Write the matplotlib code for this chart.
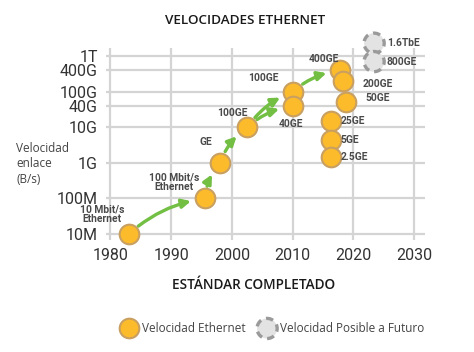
import matplotlib
matplotlib.use("Agg")
import matplotlib.pyplot as plt

plt.rcParams['font.family'] = ['Roboto', 'DejaVu Sans']

# current ethernet standards (year completed, link speed in b/s)
names = ["10 Mbit/s\nEthernet", "100 Mbit/s\nEthernet", "GE", "100GE", "100GE", "40GE",
         "400GE", "200GE", "50GE", "25GE", "5GE", "2.5GE"]
years = [1983, 1995.5, 1998, 2002.5, 2010, 2010, 2017.8, 2018.3, 2018.7, 2016.3, 2016.3, 2016.3]
speeds = [1e7, 1e8, 1e9, 1e10, 1e11, 4e10, 4e11, 2e11, 5e10, 1.5e10, 4.4e9, 1.45e9]

# possible future speeds
future_names = ["1.6TbE", "800GE"]
future_years = [2023.4, 2023.4]
future_speeds = [2.3e12, 7e11]

# evolution arrows (index from -> index to)
arrows = [(0, 1), (1, 2), (2, 3), (3, 4), (3, 5), (4, 6)]

ytick_vals = [1e7, 1e8, 1e9, 1e10, 4e10, 1e11, 4e11, 1e12]
ytick_labels = ["10M", "100M", "1G", "10G", "40G", "100G", "400G", "1T"]
xtick_vals = [1980, 1990, 2000, 2010, 2020, 2030]

# label offsets in points (dx, dy, ha)
label_pos = [(-19, 14, 'center'), (-22, 12, 'center'), (-10, 15, 'center'), (-11, 10, 'center'),
             (-21, 10, 'center'), (-1, -13, 'center'), (-12, 8, 'center'), (25, -2, 'center'),
             (14, 3, 'left'), (7, 0, 'left'), (7, 0, 'left'), (7, 0, 'left')]
future_label_pos = [(9, 0, 'left'), (9, 0, 'left')]

yellow = '#FBBB2B'
edge = '#C9A061'
green = '#72BF44'

fig = plt.figure(figsize=(4.74, 3.52), dpi=100)
ax = fig.add_axes([0.224, 0.318, 0.673, 0.546])

ax.set_yscale('log')
ax.set_xlim(1979.3, 2031.8)
ax.set_ylim(6.8e6, 1.7e12)
ax.set_yticks(ytick_vals)
ax.set_yticklabels(ytick_labels)
ax.minorticks_off()
ax.set_xticks(xtick_vals)
ax.tick_params(length=0, labelsize=11.5, colors='#333333')
ax.tick_params(axis='y', pad=6)
ax.tick_params(axis='x', pad=6)
ax.grid(True, color='#d4d4d4', linewidth=1.6)
for s in ax.spines.values():
    s.set_visible(False)

for a, b in arrows:
    ax.annotate("", xy=(years[b], speeds[b]), xytext=(years[a], speeds[a]),
                arrowprops=dict(arrowstyle='-|>', color=green, lw=2.4, mutation_scale=13,
                                shrinkA=9, shrinkB=10,
                                connectionstyle='arc3,rad=-0.15'), zorder=3)

pts = ax.scatter(years, speeds, s=200, color=yellow, edgecolors=edge, linewidths=1.5,
                 zorder=4, clip_on=False)
fut = ax.scatter(future_years, future_speeds, s=210, color='#e3e3e3', edgecolors='#9a9a9a',
                 linewidths=2.4, linestyles=(0, (2.2, 1.6)), zorder=4, clip_on=False)

for n, x, y, (dx, dy, ha) in zip(names, years, speeds, label_pos):
    ax.annotate(n, (x, y), xytext=(dx, dy), textcoords='offset points', ha=ha, va='center',
                fontsize=7.4, fontweight='bold', color='#4a4a4a', linespacing=0.95,
                annotation_clip=False, zorder=5)
for n, x, y, (dx, dy, ha) in zip(future_names, future_years, future_speeds, future_label_pos):
    ax.annotate(n, (x, y), xytext=(dx, dy), textcoords='offset points', ha=ha, va='center',
                fontsize=7.4, fontweight='bold', color='#4a4a4a',
                annotation_clip=False, zorder=5)

fig.text(0.517, 0.943, "VELOCIDADES ETHERNET", ha='center', va='center', fontsize=9.7,
         fontweight='semibold', color='#1a1a1a', family=['Open Sans', 'DejaVu Sans'])
fig.text(0.534, 0.19, "ESTÁNDAR COMPLETADO", ha='center', va='center', fontsize=9.8,
         fontweight='semibold', color='#1a1a1a', family=['Open Sans', 'DejaVu Sans'])
fig.text(0.034, 0.535, "Velocidad\nenlace\n(B/s)", ha='left', va='center', fontsize=8.5,
         color='#444444', linespacing=1.25, family=['Open Sans', 'DejaVu Sans'])

leg = fig.legend([pts, fut], ["Velocidad Ethernet", "Velocidad Posible a Futuro"], ncol=2,
                 loc='center', bbox_to_anchor=(0.574, 0.068), frameon=False,
                 prop={'family': ['Open Sans', 'DejaVu Sans'], 'size': 8.5},
                 handletextpad=0.3, columnspacing=1.0, handlelength=1.6, scatterpoints=1)
for t in leg.get_texts():
    t.set_color('#444444')

fig.savefig("out.png", dpi=100)
